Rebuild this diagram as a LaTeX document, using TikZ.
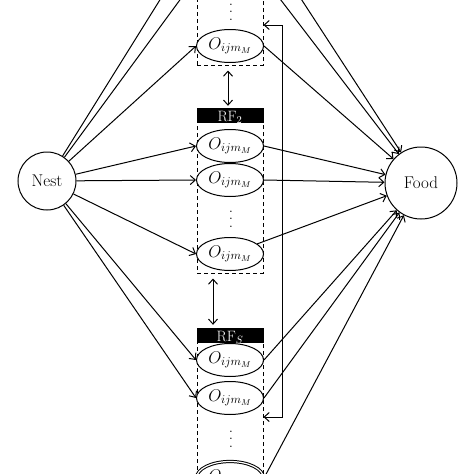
\RequirePackage{fix-cm}
\documentclass[tikz,border=0pt]{standalone}
\usepackage{fontspec}
\usepackage{amsmath}
\usepackage{tikz}
\usetikzlibrary{shapes.geometric, arrows.meta, positioning, calc}

\begin{document}
\begin{tikzpicture}[
    x=1pt, y=-1pt,
    place/.style={circle, draw=black, line width=1pt, inner sep=0pt, font=\fontsize{17}{20}\selectfont},
    obj/.style={ellipse, draw=black, line width=1pt, fill=white, minimum width=67pt, minimum height=33pt, inner sep=0pt, font=\fontsize{17}{20}\selectfont},
    rfbox/.style={rectangle, draw=black, dash pattern=on 4pt off 3pt, line width=1pt, minimum width=66pt, inner sep=0pt},
    rfbar/.style={rectangle, fill=black, text=white, minimum width=67pt, minimum height=15pt, inner sep=0pt, text height=12pt, text depth=0pt, font=\fontsize{15}{17}\selectfont},
    dotcol/.style={inner sep=0pt, align=center, font=\fontsize{17}{7.5}\selectfont},
    arrow/.style={-{Straight Barb[length=5pt, width=9pt]}, line width=1pt},
    biarrow/.style={{Straight Barb[length=5pt, width=9pt]}-{Straight Barb[length=5pt, width=9pt]}, line width=1pt}
]
\useasboundingbox (0,0) rectangle (474,474);
\fill[white] (0,0) rectangle (474,474);
\clip (0,0) rectangle (474,474);

% === Nest and food ===
\node[place, minimum size=58pt] (nest) at (47,181) {Nest};
\node[place, minimum size=72pt] (food) at (421,183) {Food};

% === Receptive fields (dashed boxes) ===
\node[rfbox, minimum height=195pt] (box1) at (230,-32.5) {};
\node[rfbox, minimum height=151pt] (box2) at (230,197.5) {};
\node[rfbox, minimum height=192pt] (box3) at (230,424) {};

\node[rfbar] (bar2) at (230,115.5) {RF$_2$};
\node[rfbar] (bar3) at (230,335.5) {RF$_S$};

% === Objects ===
\node[obj] (o1a) at (230,-58) {$O_{ijm_M}$};
\node[obj] (o1b) at (230,-22) {$O_{ijm_M}$};
\node[dotcol] (dots1) at (231,12) {.\\.\\.};
\node[obj] (o1c) at (230,46) {$O_{ijm_M}$};

\node[obj] (o2a) at (230,146) {$O_{ijm_M}$};
\node[obj] (o2b) at (230,180) {$O_{ijm_M}$};
\node[dotcol] (dots2) at (231,219) {.\\.\\.};
\node[obj] (o2c) at (230,254) {$O_{ijm_M}$};

\node[obj] (o3a) at (230,360) {$O_{ijm_M}$};
\node[obj] (o3b) at (230,398) {$O_{ijm_M}$};
\node[dotcol] (dots3) at (231,439) {.\\.\\.};
\node[obj, double, double distance=1.2pt] (o3c) at (230,478) {$O_{ijm_M}$};

% === Nest to objects ===
\draw[arrow] (nest) -- (o1a.west);
\draw[arrow] (nest) -- (o1b.west);
\draw[arrow] (nest) -- (o1c.west);
\draw[arrow] (nest) -- (o2a.west);
\draw[arrow] (nest) -- (o2b.west);
\draw[arrow] (nest) -- (o2c.west);
\draw[arrow] (nest) -- (o3a.west);
\draw[arrow] (nest) -- (o3b.west);

% === Objects to food ===
\draw[arrow] (o1a.east) -- (food);
\draw[arrow] (o1b.east) -- (food);
\draw[arrow] (o1c.east) -- (food);
\draw[arrow] (o2a.east) -- (food);
\draw[arrow] (o2b.east) -- (food);
\draw[arrow] (o2c) -- (food);
\draw[arrow] (o3a.east) -- (food);
\draw[arrow] (o3b.east) -- (food);
\draw[arrow] (o3c.east) -- (food);

% === Links between fields ===
\draw[biarrow, shorten <=5pt, shorten >=2pt] ([xshift=-2pt]box1.south) -- ([xshift=-2pt]bar2.north);
\draw[biarrow, shorten <=5pt, shorten >=3pt] ([xshift=-17pt]box2.south) -- ([xshift=-17pt]bar3.north);

\coordinate (fb1) at (box1.east |- 0,25);
\coordinate (fb3) at (box3.east |- 0,417);
\draw[biarrow] (fb3) -- ++(19,0) |- (fb1);

\end{tikzpicture}
\end{document}
